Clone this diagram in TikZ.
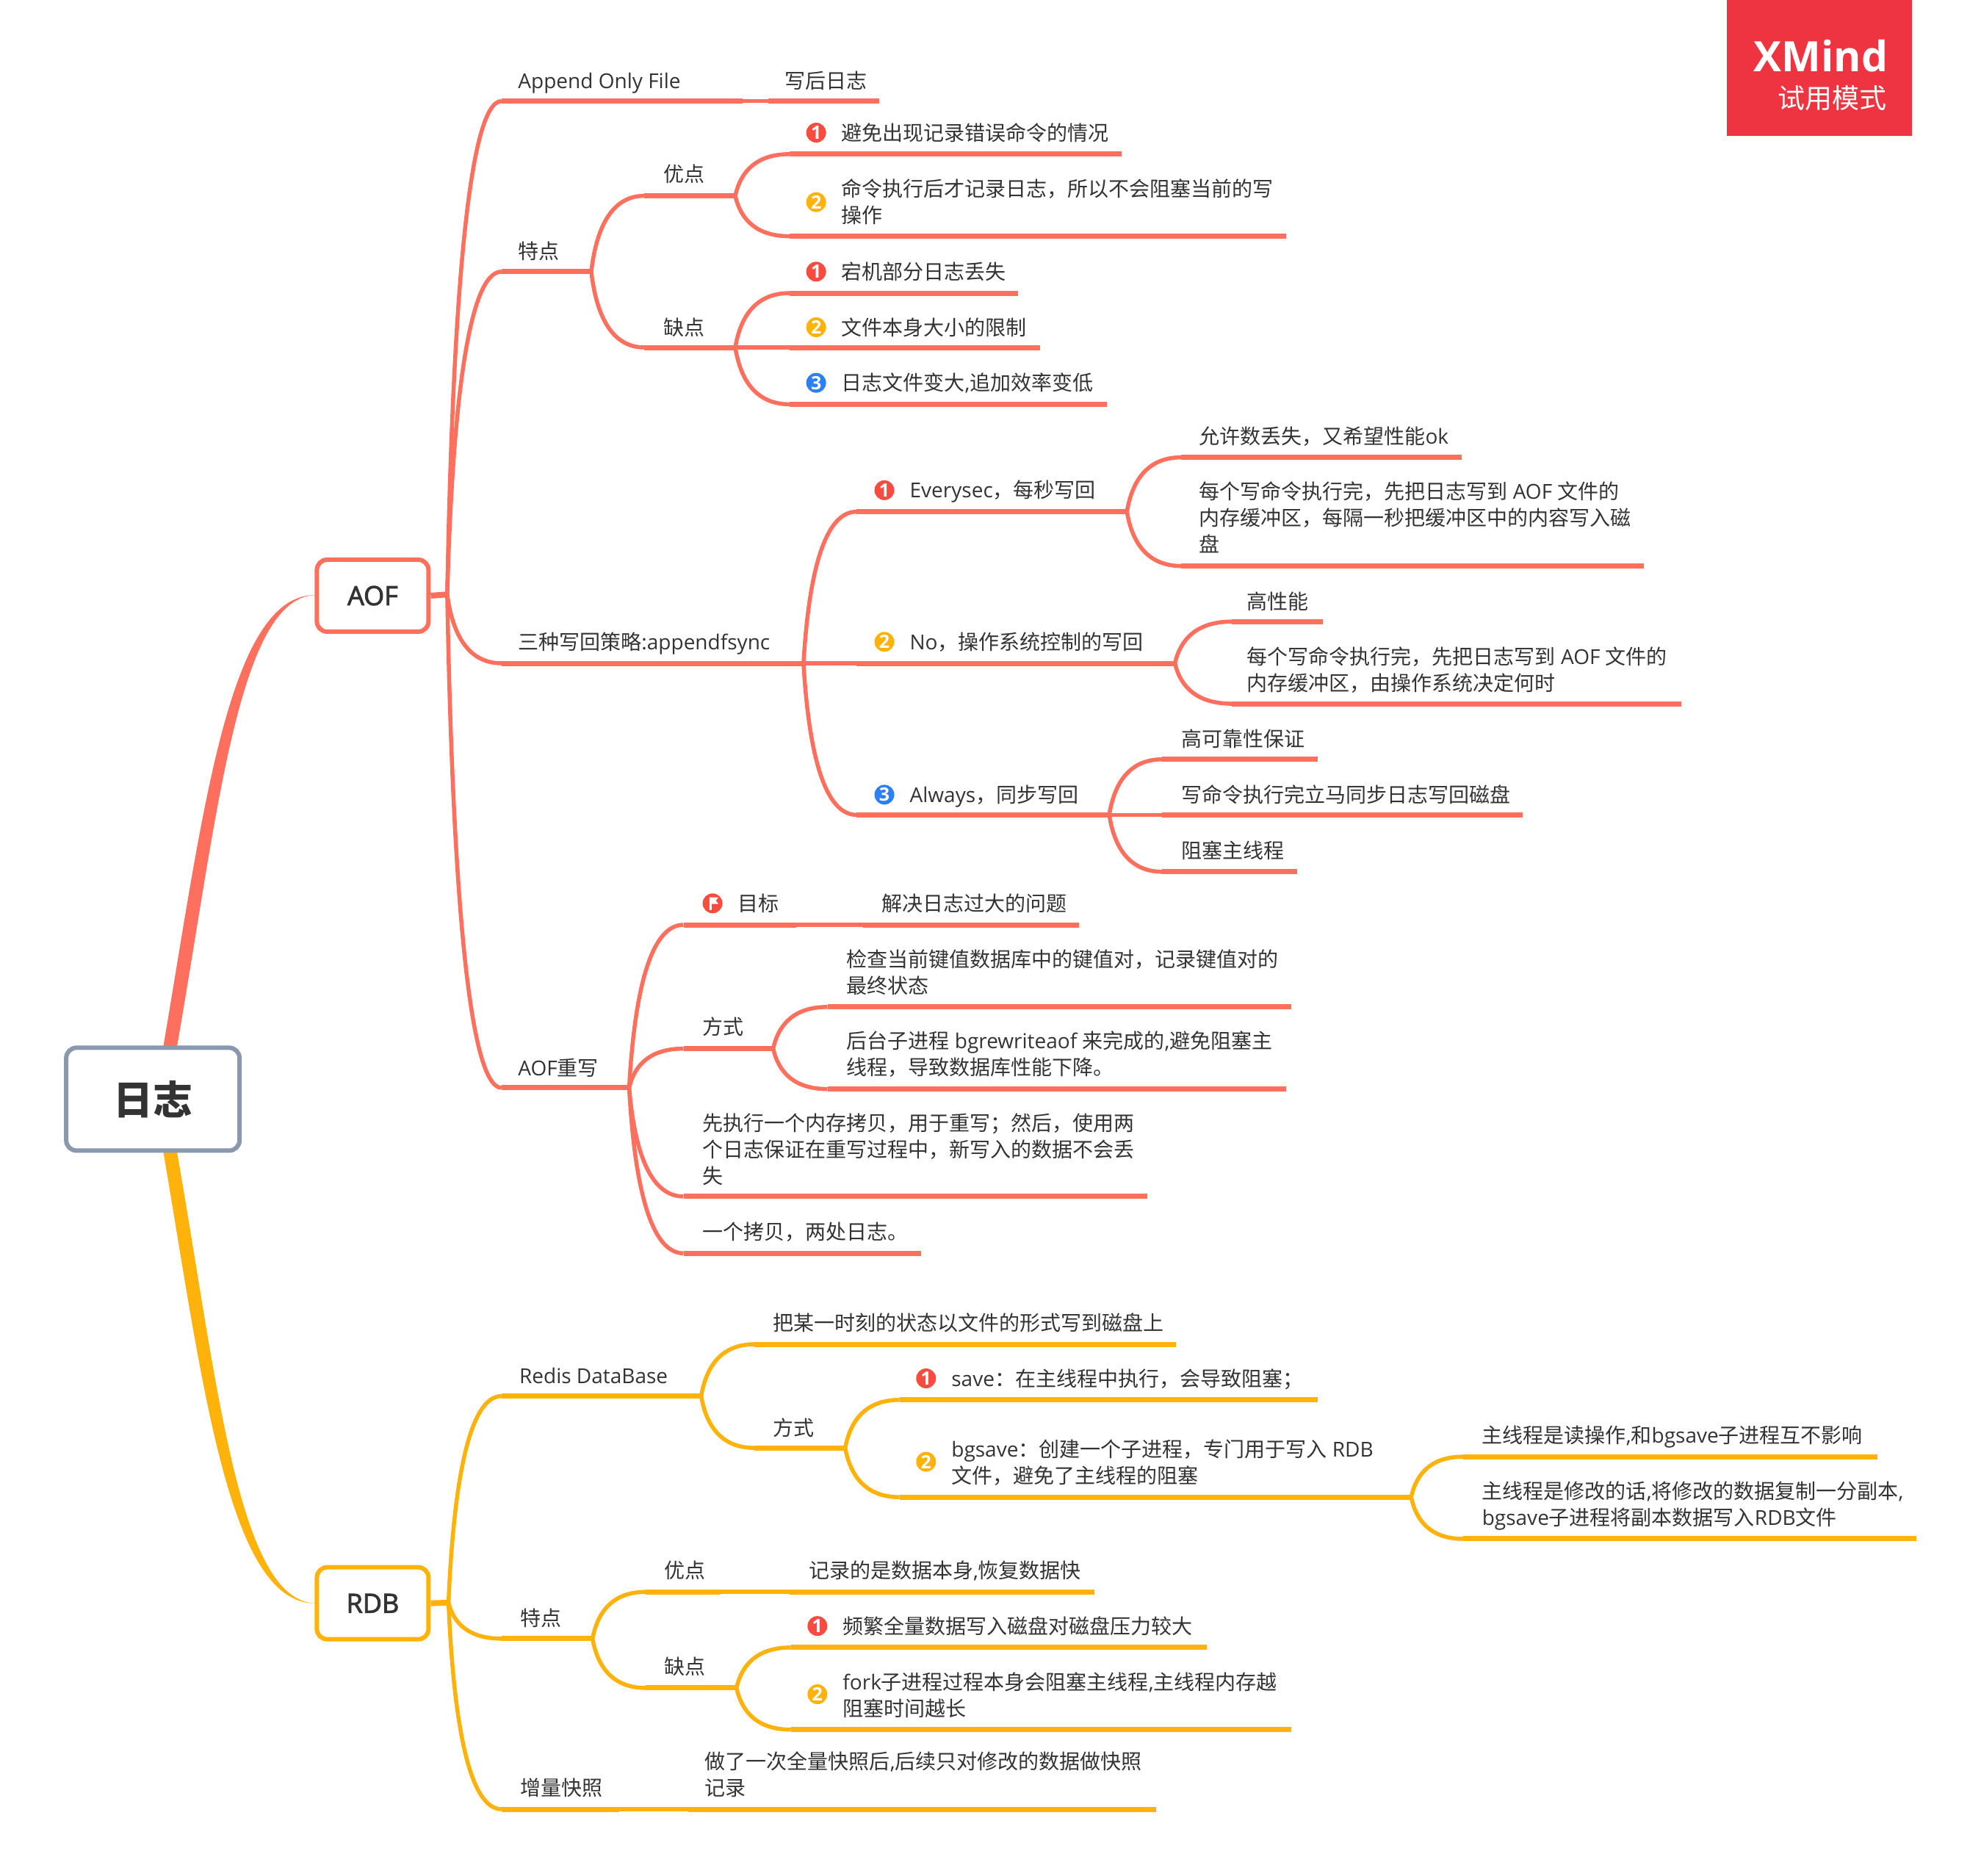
\documentclass[tikz,border=0pt]{standalone}
\usepackage{fontspec}
\usetikzlibrary{calc}
\setmainfont{Open Sans}
\newfontfamily\cjk{Noto Sans CJK SC}
\newfontfamily\semi[FakeBold=2.5]{Open Sans}
\newcommand\z[1]{{\cjk #1}}
\definecolor{aofc}{HTML}{FF6F5E}
\definecolor{rdbc}{HTML}{FFB30A}
\definecolor{rootc}{HTML}{8A98AE}
\definecolor{txtc}{HTML}{333333}
\definecolor{logoc}{HTML}{EE3440}
\definecolor{mred}{HTML}{F94B40}
\definecolor{myel}{HTML}{FFB30A}
\definecolor{mblu}{HTML}{2D7FF5}
\tikzset{
  lbl/.style={anchor=west,inner sep=0pt,align=left,text=txtc,yshift=-3.4pt,font=\fontsize{28}{36}\selectfont},
  under/.style={line width=7pt,draw=brc},
  conn/.style={line width=5.5pt,draw=brc},
  mk/.style={circle,inner sep=0pt,minimum size=27pt,text=white,font=\fontsize{25}{25}\bfseries\selectfont},
  mainbox/.style={draw=brc,fill=white,line width=6pt,rounded corners=14pt,minimum width=152pt,minimum height=98pt,text=txtc,inner sep=0pt,font=\fontsize{36}{36}\semi\selectfont},
}
\newcommand\topic[7]{%
  \node[lbl] (#1) at (#5,#6) {\strut #7\strut};
  \coordinate (#1L) at (#2,#4);
  \coordinate (#1R) at (#3,#4);
  \draw[under] (#1L) -- (#1R);}
\newcommand\link[2]{%
  \draw[conn] let \p1=(#1), \p2=(#2) in (#1) .. controls ({\x1+0.1*(\x2-\x1)},{\y1+0.6*(\y2-\y1)}) and ({\x1+0.4*(\x2-\x1)},\y2) .. (#2);}
\newcommand\mkn[5]{\node[mk,fill=#4] (#1) at (#2,#3) {#5};}
\begin{document}
\begin{tikzpicture}[x=1.72pt,y=-1.72pt]
\useasboundingbox (0,0) rectangle (1568.02,1484.3);
% main tapered branches are drawn first, under the boxes
\coordinate (aofw) at (250,471);
\coordinate (rdbw) at (250,1269);
\coordinate (rootc) at (121,870);
\fill[aofc] (rootc) ++(1,0) .. controls (158,670) and (176,469.5) .. (aofw) .. controls (184,472) and (170,672) .. (132.5,870) -- cycle;
\fill[rdbc] (rootc) ++(1,0) .. controls (158,1070) and (176,1270.5) .. (rdbw) .. controls (184,1268) and (170,1068) .. (132.5,870) -- cycle;
% root
\node[draw=rootc,fill=white,line width=6pt,rounded corners=14pt,minimum width=236pt,minimum height=140pt,inner sep=0pt,text=txtc,font=\fontsize{54}{54}\bfseries\selectfont] (root) at (rootc) {\raisebox{1.5pt}{\z{日志}}};

% ===== AOF =====
\begin{scope}
\colorlet{brc}{aofc}
\coordinate (J0) at (354,470.5);
\node[mainbox] (aof) at (295,471.5) {AOF};
\draw[line width=8pt,draw=brc] (aof.east) -- (J0);

\topic{a1}{397}{588}{80}{410}{64}{Append Only File}
\topic{a1c}{608}{696}{80}{621}{64}{\z{写后日志}}
\draw[conn] (a1R) -- (a1cL);
\link{J0}{a1L}

\topic{a2}{397}{468}{215}{410}{198.5}{\z{特点}}
\link{J0}{a2L}
\topic{a21}{510}{582}{155}{525}{138}{\z{优点}}
\link{a2R}{a21L}
\topic{a211}{625}{888}{122}{666}{105}{\z{避免出现记录错误命令的情况}}
\link{a21R}{a211L}
\mkn{m1}{646}{105}{mred}{1}
\topic{a212}{625}{1018}{187}{666}{160}{\z{命令执行后才记录日志，所以不会阻塞当前的写}\\\z{操作}}
\link{a21R}{a212L}
\mkn{m2}{646}{160}{myel}{2}
\topic{a22}{510}{582}{275}{525}{259}{\z{缺点}}
\link{a2R}{a22L}
\topic{a221}{625}{806}{232}{666}{215}{\z{宕机部分日志丢失}}
\link{a22R}{a221L}
\mkn{m3}{646}{215}{mred}{1}
\topic{a222}{625}{823}{275}{666}{259}{\z{文件本身大小的限制}}
\link{a22R}{a222L}
\mkn{m4}{646}{259}{myel}{2}
\topic{a223}{625}{876}{320}{666}{303}{\z{日志文件变大}{,}\z{追加效率变低}}
\link{a22R}{a223L}
\mkn{m5}{646}{303}{mblu}{3}

\topic{a3}{397}{636}{525}{410}{508}{\z{三种写回策略}:appendfsync}
\link{J0}{a3L}
\topic{a31}{678}{892}{405}{720}{388}{Everysec\z{，每秒写回}}
\link{a3R}{a31L}
\mkn{m6}{700}{388}{mred}{1}
\topic{a311}{935}{1157}{362}{949}{345}{\z{允许数丢失，又希望性能}ok}
\link{a31R}{a311L}
\topic{a312}{935}{1301}{448}{949}{410}{\z{每个写命令执行完，先把日志写到} AOF \z{文件的}\\\z{内存缓冲区，每隔一秒把缓冲区中的内容写入磁}\\\z{盘}}
\link{a31R}{a312L}
\topic{a32}{678}{930}{525}{720}{508}{No\z{，操作系统控制的写回}}
\link{a3R}{a32L}
\mkn{m7}{700}{508}{myel}{2}
\topic{a321}{975}{1047}{492}{987}{476}{\z{高性能}}
\link{a32R}{a321L}
\topic{a322}{975}{1331}{557}{987}{530}{\z{每个写命令执行完，先把日志写到} AOF \z{文件的}\\\z{内存缓冲区，由操作系统决定何时}}
\link{a32R}{a322L}
\topic{a33}{678}{878}{645}{720}{629}{Always\z{，同步写回}}
\link{a3R}{a33L}
\mkn{m8}{700}{629}{mblu}{3}
\topic{a331}{920}{1043}{601}{935}{585}{\z{高可靠性保证}}
\link{a33R}{a331L}
\topic{a332}{920}{1205}{645}{935}{629}{\z{写命令执行完立马同步日志写回磁盘}}
\link{a33R}{a332L}
\topic{a333}{920}{1027}{690}{935}{673}{\z{阻塞主线程}}
\link{a33R}{a333L}

\topic{a4}{397}{498}{861}{410}{845}{AOF\z{重写}}
\link{J0}{a4L}
\topic{a41}{541}{630}{732}{584}{715}{\z{目标}}
\link{a4R}{a41L}
\topic{a41c}{683}{854}{732}{698}{715}{\z{解决日志过大的问题}}
\draw[conn] (a41R) -- (a41cL);
\node[mk,fill=mred] (m9) at (564,715) {};
\fill[white] (m9.center) ++(-2.5,-4.8) -- ++(7.1,0) -- ++(-2,2.8) -- ++(2,2.4) -- ++(-5.3,0) -- ++(0,4.8) -- ++(-1.8,0) -- cycle;
\topic{a42}{541}{612}{830}{556}{813}{\z{方式}}
\link{a4R}{a42L}
\topic{a421}{655}{1022}{797}{670}{769.5}{\z{检查当前键值数据库中的键值对，记录键值对的}\\\z{最终状态}}
\link{a42R}{a421L}
\topic{a422}{655}{1018}{862}{670}{834.5}{\z{后台子进程} bgrewriteaof \z{来完成的}{,}\z{避免阻塞主}\\\z{线程，导致数据库性能下降。}}
\link{a42R}{a422L}
\topic{a43}{541}{908}{947}{556}{910}{\z{先执行一个内存拷贝，用于重写；然后，使用两}\\\z{个日志保证在重写过程中，新写入的数据不会丢}\\\z{失}}
\link{a4R}{a43L}
\topic{a44}{541}{729}{992}{556}{975}{\z{一个拷贝，两处日志。}}
\link{a4R}{a44L}
\end{scope}

% ===== RDB =====
\begin{scope}
\colorlet{brc}{rdbc}
\coordinate (J1) at (355,1268.5);
\node[mainbox] (rdb) at (295,1269) {RDB};
\draw[line width=8pt,draw=brc] (rdb.east) -- (J1);

\topic{r1}{397}{555}{1105}{411}{1089}{Redis DataBase}
\link{J1}{r1L}
\topic{r11}{597}{931}{1064}{612}{1047}{\z{把某一时刻的状态以文件的形式写到磁盘上}}
\link{r1R}{r11L}
\topic{r12}{597}{669}{1146}{612}{1130}{\z{方式}}
\link{r1R}{r12L}
\topic{r121}{712}{1043}{1108}{753}{1091}{save\z{：在主线程中执行，会导致阻塞；}}
\link{r12R}{r121L}
\mkn{n1}{733}{1091}{mred}{1}
\topic{r122}{712}{1117}{1185}{753}{1157.5}{bgsave\z{：创建一个子进程，专门用于写入} RDB\\\z{文件，避免了主线程的阻塞}}
\link{r12R}{r122L}
\mkn{n2}{733}{1157}{myel}{2}
\topic{r1221}{1158}{1486}{1153}{1173}{1136}{\z{主线程是读操作}{,}\z{和}bgsave\z{子进程互不影响}}
\link{r122R}{r1221L}
\topic{r1222}{1158}{1517}{1218}{1173}{1190.5}{\z{主线程是修改的话}{,}\z{将修改的数据复制一分副本}{,}\\bgsave\z{子进程将副本数据写入}RDB\z{文件}}
\link{r122R}{r1222L}

\topic{r2}{397}{469}{1297}{412}{1281}{\z{特点}}
\link{J1}{r2L}
\topic{r21}{511}{570}{1260}{526}{1243}{\z{优点}}
\link{r2R}{r21L}
\topic{r21c}{625}{866}{1260}{640}{1243}{\z{记录的是数据本身}{,}\z{恢复数据快}}
\draw[conn] (r21R) -- (r21cL);
\topic{r22}{511}{583}{1336}{526}{1319}{\z{缺点}}
\link{r2R}{r22L}
\topic{r221}{626}{955}{1304}{667}{1287}{\z{频繁全量数据写入磁盘对磁盘压力较大}}
\link{r22R}{r221L}
\mkn{n3}{647}{1287}{mred}{1}
\topic{r222}{626}{1022}{1369}{667}{1341.5}{fork\z{子进程过程本身会阻塞主线程}{,}\z{主线程内存越}\\\z{阻塞时间越长}}
\link{r22R}{r222L}
\mkn{n4}{647}{1341}{myel}{2}

\topic{r3}{397}{490}{1432}{412}{1415}{\z{增量快照}}
\link{J1}{r3L}
\topic{r3c}{545}{915}{1432}{558}{1404.5}{\z{做了一次全量快照后}{,}\z{后续只对修改的数据做快照}\\\z{记录}}
\draw[conn] (r3R) -- (r3cL);
\end{scope}

% ===== logo =====
\fill[logoc] (1367,0) -- (1513.5,0) -- (1513.5,107.5) -- (1367,107.5) -- cycle;
\node[anchor=base east,inner sep=0pt,text=white,font=\fontsize{57}{57}\bfseries\selectfont] (logoa) at (1494.5,56.5) {XMind};
\node[anchor=base east,inner sep=0pt,text=white,font=\fontsize{37}{37}\selectfont] (logob) at (1493.5,86) {\z{试用模式}};
\end{tikzpicture}
\end{document}
